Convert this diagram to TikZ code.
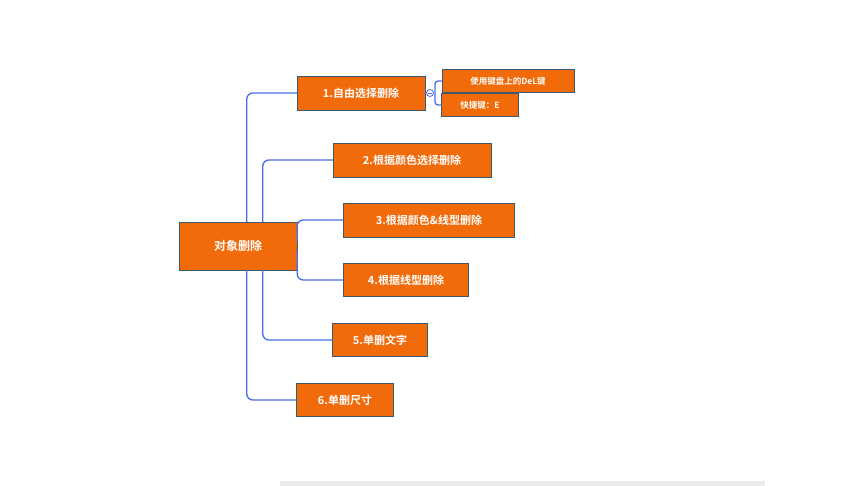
\documentclass[tikz,border=0pt]{standalone}
\usepackage{fontspec}
\setmainfont{Noto Sans CJK SC}[BoldFont={Noto Sans CJK SC Bold}]
\usetikzlibrary{positioning}
\definecolor{box}{RGB}{242,107,10}
\definecolor{edge}{RGB}{60,90,110}
\definecolor{link}{RGB}{70,110,230}
\tikzset{
  topic/.style={rectangle, draw=edge, fill=box, text=white, font=\bfseries\fontsize{11}{12}\selectfont, inner sep=0pt},
  leaf/.style={rectangle, draw=edge, fill=box, text=white, font=\bfseries\fontsize{8.5}{10}\selectfont, inner sep=0pt, minimum height=23},
  line/.style={draw=link, line width=1.3pt, rounded corners=6pt}
}
\begin{document}
\begin{tikzpicture}[x=1pt, y=-1pt]
    \useasboundingbox (0,0) rectangle (864,486);
    \fill[gray!15] (280,481) rectangle (765,486);
    \node [topic, minimum width=118, minimum height=48, font=\bfseries\fontsize{12}{14}\selectfont] (root) at (238,246) {对象删除};
    \node [topic, minimum width=128, minimum height=34] (t1) at (361,93) {1.自由选择删除};
    \node [topic, minimum width=158, minimum height=34] (t2) at (412,160) {2.根据颜色选择删除};
    \node [topic, minimum width=171, minimum height=34] (t3) at (429,220) {3.根据颜色\&线型删除};
    \node [topic, minimum width=125, minimum height=33] (t4) at (406,280) {4.根据线型删除};
    \node [topic, minimum width=95, minimum height=33] (t5) at (380,340) {5.单删文字};
    \node [topic, minimum width=97, minimum height=33] (t6) at (345,400) {6.单删尺寸};
    \node [leaf, minimum width=132] (s1) at (508,81) {使用键盘上的DeL键};
    \node [leaf, minimum width=77] (s2) at (480,105) {快捷键：E};
    \coordinate (fold) at (430,93);

    \path [line] (root.north west) ++(68,0) |- (t1.west);
    \path [line] (root.south west) ++(68,0) |- (t6.west);
    \path [line] (root.north west) ++(84,0) |- (t2.west);
    \path [line] (root.south west) ++(84,0) |- (t5.west);
    \path [line] (root.east) ++(0,-4) -- ++(0,-10) |- (t3.west);
    \path [line] (root.east) ++(0,4) -- ++(0,10) |- (t4.west);
    \path [line] (t1.east) -- (fold);
    \path [line, rounded corners=3pt] (s1.west) -| (435,93) |- (s2.west);
    \draw [link, line width=0.8pt, fill=white] (fold) circle (3.5);
    \draw [link, line width=0.6pt] (428,93) -- (432,93);
\end{tikzpicture}
\end{document}
